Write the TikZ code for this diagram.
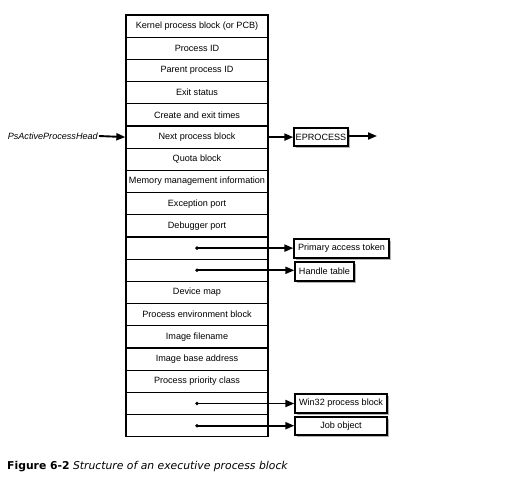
\documentclass[tikz,border=0pt]{standalone}
\usepackage{fontspec}
\setmainfont{Liberation Sans}
\newfontfamily\capfont{DejaVu Sans}
\usetikzlibrary{arrows.meta,shadows}
\tikzset{
  rowbox/.style={draw,line width=1.3pt,minimum width=142pt,minimum height=22.2pt,inner sep=0pt,font=\fontsize{9.1}{10}\selectfont},
  ptr/.style={line width=1.9pt,-{Triangle[length=9pt,width=7pt]}},
  objbox/.style={draw,line width=1.3pt,fill=white,inner sep=0pt,font=\fontsize{9.1}{10}\selectfont,
    drop shadow={shadow xshift=1.5pt,shadow yshift=-1.5pt,fill=gray!60,opacity=1}},
}
\begin{document}
\begin{tikzpicture}[x=1pt,y=-1pt]
\useasboundingbox[fill=white] (0,0) rectangle (508,480);
\foreach \t [count=\i] in {Kernel process block (or PCB),Process ID,Parent process ID,Exit status,Create and exit times,Next process block,Quota block,Memory management information,Exception port,Debugger port,{},{},Device map,Process environment block,Image filename,Image base address,Process priority class,{},{}}{
  \node[rowbox] (r\i) at (197,{15+22.2*(\i-0.5)}) {\t};
}
% objects
\node[objbox,minimum width=54pt,minimum height=18pt] (ep) at (321,137) {EPROCESS};
\node[objbox,minimum width=95pt,minimum height=19pt] (pat) at (341.5,248.5) {Primary access token};
\node[objbox,minimum width=59pt,minimum height=19pt] (ht) at (324.5,271.5) {Handle table};
\node[objbox,minimum width=92pt,minimum height=19pt] (w32) at (341,403.5) {Win32 process block};
\node[objbox,minimum width=92pt,minimum height=18pt] (job) at (341,426) {Job object};
% PsActiveProcessHead
\node[anchor=east,inner sep=1pt,font=\itshape\fontsize{9.1}{10}\selectfont] (ps) at (99,136) {PsActiveProcessHead};
\draw[ptr] (ps.east) -- (r6.west);
\draw[ptr] (r6.east) -- (ep.west |- r6.east);
\coordinate (epo) at (377,136);
\draw[ptr] (ep.east |- epo) -- (epo);
% pointer arrows
\foreach \r/\o in {11/pat,12/ht,18/w32,19/job}{
  \fill (r\r.center) circle[radius=1.9pt];
  \draw[ptr] (r\r.center) -- (\o.west |- r\r.center);
}
% caption
\node[anchor=base west,inner sep=0pt,font=\capfont\fontsize{10.8}{12}\selectfont] (cap) at (7,469) {\textbf{Figure 6-2} \textit{Structure of an executive process block}};
\end{tikzpicture}
\end{document}
